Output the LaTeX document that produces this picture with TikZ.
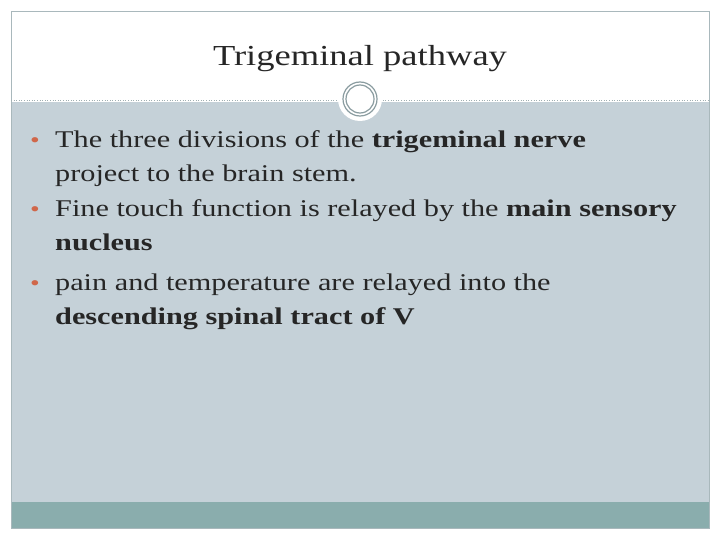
\documentclass[tikz,border=0pt]{standalone}
\usepackage{fontspec}
\setmainfont{Liberation Serif}[FakeStretch=1.26]
\definecolor{bodyc}{HTML}{C5D1D8}
\definecolor{barc}{HTML}{8AADAD}
\definecolor{framec}{HTML}{A9B8BC}
\definecolor{bul}{HTML}{D0674A}
\definecolor{ringc}{HTML}{8A9CA0}
\begin{document}
\begin{tikzpicture}[x=1pt,y=-1pt,
  txt/.style={anchor=base west,inner sep=0pt,font=\fontsize{24}{28}\selectfont,text=black!85},
  bl/.style={anchor=base west,inner sep=0pt,font=\fontsize{22}{24}\selectfont,text=bul}]
\useasboundingbox[fill=white] (0,0) rectangle (720,540);
\fill[bodyc] (11,102) rectangle (709,502);
\fill[barc] (11,502) rectangle (709,528);
\draw[framec,line width=0.8] (11,11) rectangle (709,528);
\draw[ringc!80,dotted,line width=0.6] (11,100) -- (709,100);
\fill[white] (360,99) circle (22);
\draw[ringc,line width=1.2] (360,99) circle (17);
\draw[ringc,line width=1.2] (360,99) circle (14);
\node[anchor=base,inner sep=0pt,font=\fontsize{29}{32}\selectfont,text=black!85] (title) at (360,66) {Trigeminal pathway};
\node[bl] (b1) at (30,148) {•};
\node[txt] (l1) at (55,148) {The three divisions of the \textbf{trigeminal nerve}};
\node[txt] (l2) at (55,182) {project to the brain stem.};
\node[bl] (b2) at (30,217) {•};
\node[txt] (l3) at (55,217) {Fine touch function is relayed by the \textbf{main sensory}};
\node[txt] (l4) at (55,251) {\textbf{nucleus}};
\node[bl] (b3) at (30,290) {•};
\node[txt] (l5) at (55,290) {pain and temperature are relayed into the};
\node[txt] (l6) at (55,324) {\textbf{descending spinal tract of V}};
\end{tikzpicture}
\end{document}
